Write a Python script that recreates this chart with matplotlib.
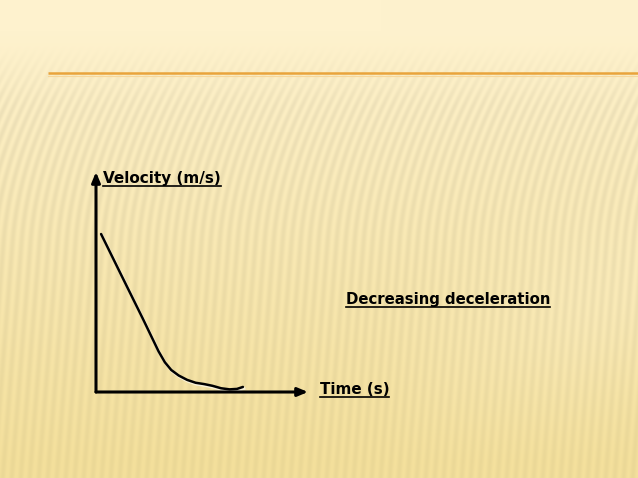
import numpy as np
import matplotlib
matplotlib.use("Agg")
import matplotlib.pyplot as plt

# sketch of velocity against time (graph units: 0..10 on both axes)
time_pts = [0.24, 1.2, 2.2, 2.95, 3.25, 3.55, 3.9, 4.3, 4.7, 5.1, 5.5, 5.9, 6.3, 6.65, 6.93]
velocity_pts = [7.18, 5.3, 3.35, 1.85, 1.35, 1.0, 0.75, 0.55, 0.42, 0.36, 0.28, 0.17, 0.12, 0.14, 0.23]

y_label = "Velocity (m/s)"
x_label = "Time (s)"
note = "Decreasing deceleration"

W, H = 638, 478
fig = plt.figure(figsize=(W / 100, H / 100), dpi=100)

# slide background
bg = fig.add_axes([0, 0, 1, 1])
yy, xx = np.mgrid[0:H, 0:W].astype(float)
top = np.array([254, 242, 206]) / 255
low = np.array([244, 224, 156]) / 255
t = np.clip((yy - 30) / 430, 0, 1)[..., None] ** 0.9
img = top * (1 - t) + low * t
# lighter swoosh on the right
sw = np.exp(-((yy - 300 + 0.35 * (xx - 600)) / 90) ** 2) * np.clip((xx - 380) / 200, 0, 1)
img = img + (np.array([253, 240, 200]) / 255 - img) * (0.35 * sw)[..., None]
# diagonal stripes, steeper further down the slide
slope = np.clip(0.6 - (np.arange(H) - 60) / 350, 0.08, 0.6)
shift = np.cumsum(slope)[:, None]
phase = (xx + shift) / 9.0 * 2 * np.pi
amp = np.clip((yy - 45) / 60, 0, 1) * (0.6 + 0.4 * np.clip(1 - (yy - 150) / 350, 0, 1))
stripe = 0.5 + 0.5 * np.sin(phase)
img = img * (1 - 0.055 * stripe * amp)[..., None]
bg.imshow(np.clip(img, 0, 1), extent=[0, W, H, 0], aspect="auto", interpolation="bilinear")
bg.set_xlim(0, W)
bg.set_ylim(H, 0)
bg.axis("off")
bg.plot([48, W], [73, 73], color="#e9a43c", lw=1.8, solid_capstyle="butt")
bg.plot([48, W], [75.5, 75.5], color="#f7d79a", lw=0.8)

# graph area
ax = fig.add_axes([96 / W, (H - 392) / H, (308 - 96) / W, (392 - 172) / H])
ax.set_xlim(0, 10)
ax.set_ylim(0, 10)
ax.axis("off")
arrow = dict(arrowstyle="-|>,head_length=0.6,head_width=0.25", color="black", lw=2.2,
             shrinkA=0, shrinkB=0)
ax.annotate("", xy=(10, 0), xytext=(0, 0), arrowprops=arrow, annotation_clip=False)
ax.annotate("", xy=(0, 10), xytext=(0, 0), arrowprops=arrow, annotation_clip=False)
ax.plot(np.array(time_pts) + 0.05, np.array(velocity_pts) - 0.07, color="white", lw=2, alpha=0.6,
        solid_joinstyle="round")
ax.plot(time_pts, velocity_pts, color="black", lw=1.8, solid_joinstyle="round", solid_capstyle="round")

font = dict(family="DejaVu Sans", weight="bold", color="black", va="baseline", ha="left")
labels = [
    (y_label, 103, 183, 118),
    (note, 346, 304, 204),
    (x_label, 320, 394, 69),
]
fig.canvas.draw()
r = fig.canvas.get_renderer()
for s, x0, yb, width in labels:
    txt = bg.text(x0, yb, s, fontsize=11, **font)
    w = txt.get_window_extent(r).width
    txt.set_fontsize(11 * width / w)
    bg.plot([x0, x0 + width], [yb + 3, yb + 3], color="black", lw=1.2)

fig.savefig("out.png", dpi=100)
